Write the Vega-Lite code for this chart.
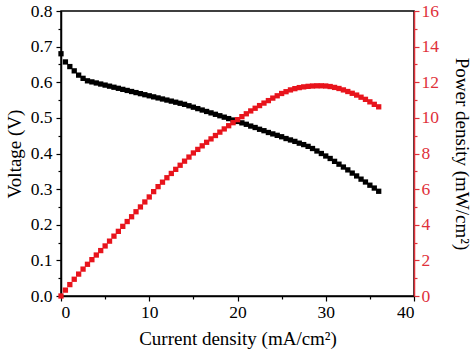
{
  "$schema": "https://vega.github.io/schema/vega-lite/v6.json",
  "width": 353,
  "height": 285,
  "autosize": {"type": "none"},
  "padding": {"left": 61, "top": 11, "right": 60, "bottom": 57},
  "background": "white",
  "config": {
    "font": "Times New Roman",
    "view": {"stroke": "black", "strokeWidth": 1.5},
    "axis": {
      "labelFont": "Times New Roman",
      "titleFont": "Times New Roman",
      "labelFontSize": 17.5,
      "titleFontSize": 19,
      "titleFontWeight": "normal",
      "grid": false,
      "domainWidth": 1.5,
      "tickWidth": 1.2,
      "labelColor": "black",
      "titleColor": "black",
      "domainColor": "black",
      "tickColor": "black"
    }
  },
  "data": {
    "values": [
      {"I": 0, "V": 0.680, "P": 0},
      {"I": 0.5, "V": 0.657, "P": 0.33},
      {"I": 1, "V": 0.644, "P": 0.64},
      {"I": 1.5, "V": 0.632, "P": 0.94},
      {"I": 2, "V": 0.620, "P": 1.23},
      {"I": 2.5, "V": 0.611, "P": 1.51},
      {"I": 3, "V": 0.604, "P": 1.78},
      {"I": 3.5, "V": 0.601, "P": 2.04},
      {"I": 4, "V": 0.598, "P": 2.30},
      {"I": 4.5, "V": 0.595, "P": 2.55},
      {"I": 5, "V": 0.592, "P": 2.81},
      {"I": 5.5, "V": 0.589, "P": 3.08},
      {"I": 6, "V": 0.586, "P": 3.36},
      {"I": 6.5, "V": 0.583, "P": 3.63},
      {"I": 7, "V": 0.580, "P": 3.91},
      {"I": 7.5, "V": 0.577, "P": 4.18},
      {"I": 8, "V": 0.574, "P": 4.45},
      {"I": 8.5, "V": 0.571, "P": 4.73},
      {"I": 9, "V": 0.568, "P": 5.00},
      {"I": 9.5, "V": 0.565, "P": 5.28},
      {"I": 10, "V": 0.562, "P": 5.56},
      {"I": 10.5, "V": 0.559, "P": 5.86},
      {"I": 11, "V": 0.556, "P": 6.14},
      {"I": 11.5, "V": 0.553, "P": 6.39},
      {"I": 12, "V": 0.550, "P": 6.64},
      {"I": 12.5, "V": 0.547, "P": 6.88},
      {"I": 13, "V": 0.544, "P": 7.11},
      {"I": 13.5, "V": 0.541, "P": 7.34},
      {"I": 14, "V": 0.538, "P": 7.57},
      {"I": 14.5, "V": 0.534, "P": 7.80},
      {"I": 15, "V": 0.530, "P": 8.03},
      {"I": 15.5, "V": 0.526, "P": 8.23},
      {"I": 16, "V": 0.522, "P": 8.43},
      {"I": 16.5, "V": 0.518, "P": 8.63},
      {"I": 17, "V": 0.514, "P": 8.82},
      {"I": 17.5, "V": 0.510, "P": 9.01},
      {"I": 18, "V": 0.506, "P": 9.20},
      {"I": 18.5, "V": 0.502, "P": 9.38},
      {"I": 19, "V": 0.498, "P": 9.56},
      {"I": 19.5, "V": 0.494, "P": 9.73},
      {"I": 20, "V": 0.490, "P": 9.90},
      {"I": 20.5, "V": 0.486, "P": 10.07},
      {"I": 21, "V": 0.482, "P": 10.23},
      {"I": 21.5, "V": 0.477, "P": 10.39},
      {"I": 22, "V": 0.473, "P": 10.54},
      {"I": 22.5, "V": 0.468, "P": 10.69},
      {"I": 23, "V": 0.464, "P": 10.83},
      {"I": 23.5, "V": 0.459, "P": 10.97},
      {"I": 24, "V": 0.455, "P": 11.11},
      {"I": 24.5, "V": 0.451, "P": 11.24},
      {"I": 25, "V": 0.447, "P": 11.37},
      {"I": 25.5, "V": 0.442, "P": 11.47},
      {"I": 26, "V": 0.438, "P": 11.57},
      {"I": 26.5, "V": 0.434, "P": 11.64},
      {"I": 27, "V": 0.429, "P": 11.70},
      {"I": 27.5, "V": 0.425, "P": 11.74},
      {"I": 28, "V": 0.420, "P": 11.77},
      {"I": 28.5, "V": 0.414, "P": 11.79},
      {"I": 29, "V": 0.407, "P": 11.80},
      {"I": 29.5, "V": 0.400, "P": 11.80},
      {"I": 30, "V": 0.393, "P": 11.79},
      {"I": 30.5, "V": 0.386, "P": 11.76},
      {"I": 31, "V": 0.378, "P": 11.71},
      {"I": 31.5, "V": 0.370, "P": 11.65},
      {"I": 32, "V": 0.362, "P": 11.57},
      {"I": 32.5, "V": 0.354, "P": 11.48},
      {"I": 33, "V": 0.345, "P": 11.38},
      {"I": 33.5, "V": 0.337, "P": 11.28},
      {"I": 34, "V": 0.328, "P": 11.16},
      {"I": 34.5, "V": 0.320, "P": 11.04},
      {"I": 35, "V": 0.311, "P": 10.90},
      {"I": 35.5, "V": 0.303, "P": 10.76},
      {"I": 36, "V": 0.294, "P": 10.62}
    ]
  },
  "layer": [
    {
      "mark": {"type": "square", "size": 28, "color": "black", "opacity": 1, "filled": true},
      "encoding": {
        "x": {
          "field": "I", "type": "quantitative",
          "title": "Current density (mA/cm²)",
          "scale": {"domain": [0, 40], "nice": false},
          "axis": {
            "values": [0, 5, 10, 15, 20, 25, 30, 35, 40],
            "labelExpr": "datum.value % 10 == 5 ? '' : datum.value",
            "tickSize": {"condition": {"test": "datum.value % 10 == 5", "value": 3}, "value": 5},
            "labelPadding": 2,
            "titlePadding": 9
          }
        },
        "y": {
          "field": "V", "type": "quantitative",
          "scale": {"domain": [0, 0.8], "nice": false, "zero": false},
          "axis": {
            "title": "Voltage (V)",
            "values": [0, 0.05, 0.1, 0.15, 0.2, 0.25, 0.3, 0.35, 0.4, 0.45, 0.5, 0.55, 0.6, 0.65, 0.7, 0.75, 0.8],
            "labelExpr": "round(datum.value*20) % 2 == 1 ? '' : format(datum.value, '.1f')",
            "tickSize": {"condition": {"test": "round(datum.value*20) % 2 == 1", "value": 3}, "value": 5},
            "labelPadding": 4,
            "titlePadding": 6
          }
        }
      }
    },
    {
      "mark": {"type": "square", "size": 28, "color": "#e8141c", "opacity": 1, "filled": true},
      "encoding": {
        "x": {"field": "I", "type": "quantitative", "title": "Current density (mA/cm²)"},
        "y": {
          "field": "P", "type": "quantitative",
          "scale": {"domain": [0, 16], "nice": false, "zero": false},
          "axis": {
            "orient": "right",
            "title": "Power density (mW/cm²)",
            "values": [0, 1, 2, 3, 4, 5, 6, 7, 8, 9, 10, 11, 12, 13, 14, 15, 16],
            "labelExpr": "datum.value % 2 == 1 ? '' : datum.value",
            "tickSize": {"condition": {"test": "datum.value % 2 == 1", "value": 3}, "value": 5},
            "labelColor": "#e0303a",
            "domainColor": "#e0303a",
            "tickColor": "#e0303a",
            "labelPadding": 2,
            "titlePadding": 13
          }
        }
      }
    }
  ],
  "resolve": {"scale": {"y": "independent"}}
}
